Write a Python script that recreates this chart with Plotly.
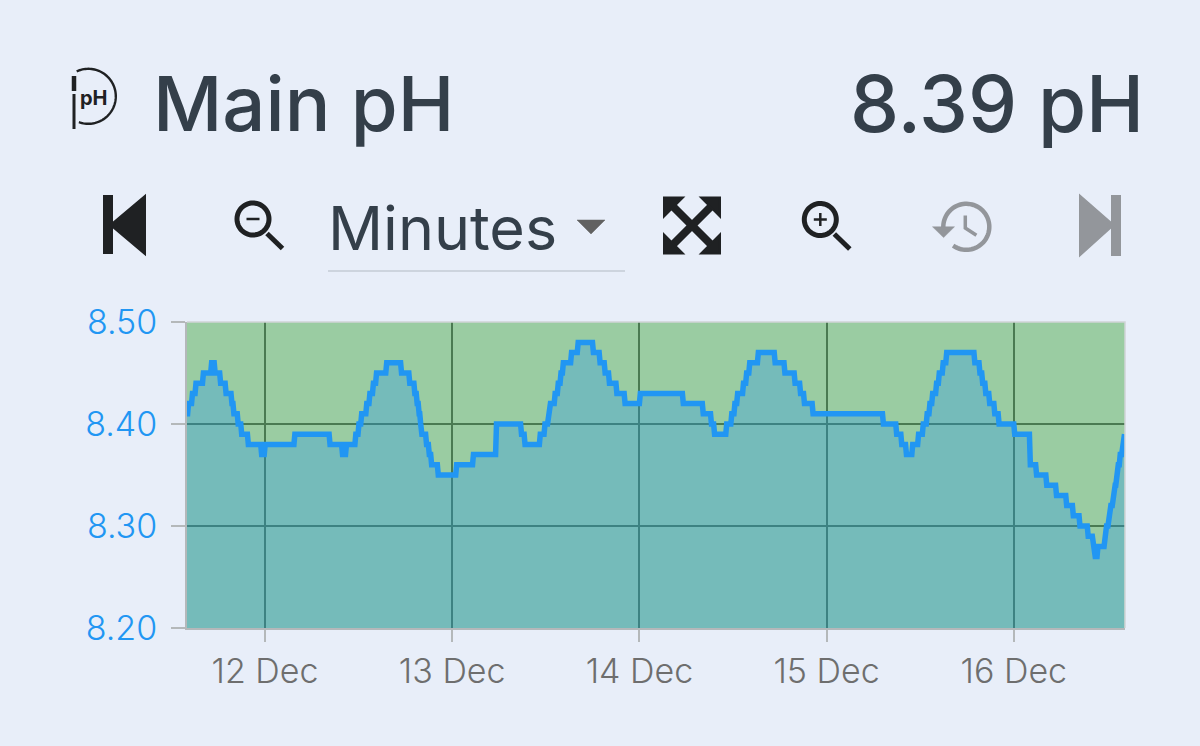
import math
import numpy as np
import pandas as pd
import plotly.graph_objects as go

# pH log: each reading level and the hour (after the window start) at which it took effect
window_start = "2023-12-11 14:00"
change_hours = [0, 0.2, 0.7, 1.15, 2.1, 3.15, 3.6, 4.3, 5.0, 5.75, 6.0, 6.55, 7.0, 7.85, 9.55, 10.0,
                13.8, 18.3, 19.9, 20.4, 21.6, 22.0, 22.35, 23.0, 23.4, 23.85, 24.25, 25.55, 27.45,
                28.5, 29.15, 29.45, 29.7, 29.9, 30.05, 30.65, 31.0, 31.3, 32.15, 34.5, 36.65,
                39.6, 42.8, 43.25, 45.2, 45.8, 46.25, 46.5, 47.1, 47.5, 47.85, 48.15, 49.2, 50.05,
                52.0, 52.85, 53.5, 54.05, 55.0, 56.05, 58.0, 63.5, 66.05, 67.1, 67.5, 69.05, 69.7,
                70.1, 70.45, 71.2, 71.6, 72.0, 73.1, 75.25, 76.5, 77.8, 78.5, 79.0, 80.1, 89.1,
                90.8, 91.45, 92.05, 92.85, 93.6, 94.2, 94.7, 95.05, 95.4, 95.9, 96.25, 96.75, 97.2,
                100.8, 101.45, 101.8, 102.2, 102.7, 103.35, 103.9, 105.9, 107.9, 108.7, 110.0,
                111.25, 112.55, 113.4, 114.25, 115.3, 115.95, 116.2, 116.55, 117.45, 117.65,
                117.95, 118.2, 118.5, 118.75, 118.95, 119.15, 119.4, 119.7, 119.95]
ph_levels = [8.41, 8.42, 8.43, 8.44, 8.45, 8.46, 8.45, 8.44, 8.43, 8.42, 8.41, 8.40, 8.39, 8.38, 8.37, 8.38,
             8.39, 8.38, 8.37, 8.38, 8.39, 8.40, 8.41, 8.42, 8.43, 8.44, 8.45, 8.46, 8.45,
             8.44, 8.43, 8.42, 8.41, 8.40, 8.39, 8.38, 8.37, 8.36, 8.35, 8.36, 8.37,
             8.40, 8.39, 8.38, 8.39, 8.40, 8.41, 8.42, 8.43, 8.44, 8.45, 8.46, 8.47, 8.48,
             8.47, 8.46, 8.45, 8.44, 8.43, 8.42, 8.43, 8.42, 8.41, 8.40, 8.39, 8.40, 8.41,
             8.42, 8.43, 8.44, 8.45, 8.46, 8.47, 8.46, 8.45, 8.44, 8.43, 8.42, 8.41, 8.40,
             8.39, 8.38, 8.37, 8.38, 8.39, 8.40, 8.41, 8.42, 8.43, 8.44, 8.45, 8.46, 8.47,
             8.46, 8.45, 8.44, 8.43, 8.42, 8.41, 8.40, 8.39, 8.36, 8.35, 8.34,
             8.33, 8.32, 8.31, 8.30, 8.29, 8.28, 8.27, 8.28, 8.29, 8.30,
             8.31, 8.32, 8.33, 8.34, 8.35, 8.36, 8.37, 8.38, 8.39]
y_ticks = [8.20, 8.30, 8.40, 8.50]
title_text = "Main pH"
current_text = "8.39 pH"
interval_text = "Minutes"

WIDTH, HEIGHT = 1200, 746
PLOT_L, PLOT_R, PLOT_T, PLOT_B = 187, 1125, 322, 628
PAGE_BG = "#E8EEF9"
BLUE = "#2196F3"
INK = "#1F2123"
MUTED = "#93969B"
TITLE_INK = "#343F4A"
AXIS_GREY = "#B4B8BA"
EDGE_GREY = "#D0D4D6"
GRID = "#4A7A52"
END_HOURS = 120.25
HOUR_SCALE = 1.002

# Hold each level until just before the next change so the line reads as a staircase
t, v = [], []
for i, level in enumerate(ph_levels):
    next_h = change_hours[i + 1] if i + 1 < len(change_hours) else END_HOURS / HOUR_SCALE
    t += [change_hours[i], max(change_hours[i], next_h - 0.12)]
    v += [level, level]
start = pd.Timestamp(window_start)
times = start + pd.to_timedelta(np.array(t) * HOUR_SCALE * 60, unit="min")

fig = go.Figure(go.Scatter(
    x=times, y=v, mode="lines", fill="tozeroy",
    fillcolor="rgba(33,150,243,0.3)",
    line=dict(color=BLUE, width=5.5),
    hoverinfo="skip",
))


def px(x):
    return (x - PLOT_L) / (PLOT_R - PLOT_L)


def py(y):
    return (PLOT_B - y) / (PLOT_B - PLOT_T)


def path(points, close=False):
    body = "M" + " L".join(f"{px(x):.5f},{py(y):.5f}" for x, y in points)
    return body + (" Z" if close else "")


def stroke(points, color, width, close=False, fill=None):
    fig.add_shape(type="path", xref="paper", yref="paper", path=path(points, close),
                  line=dict(color=color, width=width),
                  fillcolor=fill if fill else "rgba(0,0,0,0)")


def arc(cx, cy, r, a0=0, a1=360, n=72):
    return [(cx + r * math.cos(math.radians(a)), cy + r * math.sin(math.radians(a)))
            for a in np.linspace(a0, a1, n)]


def text(x, y, s, size, color, anchor="left", family="Inter", weight=400):
    fig.add_annotation(xref="paper", yref="paper", x=px(x), y=py(y), text=s, showarrow=False,
                       xanchor=anchor, yanchor="middle",
                       font=dict(family=family, size=size, color=color, weight=weight))


def magnifier(cx, cy, plus):
    stroke(arc(cx, cy, 16), INK, 5)
    stroke([(cx + 14, cy + 14.5), (cx + 29.5, cy + 29.5)], INK, 5)
    stroke([(cx - 6.5, cy), (cx + 6.5, cy)], INK, 2.5)
    if plus:
        stroke([(cx, cy - 6.5), (cx, cy + 6.5)], INK, 2.5)


# Faint top and right edges of the plot area
stroke([(PLOT_L, PLOT_T), (PLOT_R, PLOT_T), (PLOT_R, PLOT_B)], EDGE_GREY, 1.5)

# Header: probe badge, sensor name and latest reading
stroke(arc(88.3, 96.3, 27.5, -115, 110), INK, 2.4)
stroke([(74, 76), (74, 91)], INK, 4.5)
stroke([(74, 94), (74, 129)], INK, 3)
text(94, 98, "pH", 20, INK, "center", weight=700)
text(151, 103, title_text, 76, TITLE_INK, weight=500)
text(1146, 103, current_text, 78, TITLE_INK, "right", weight=500)

# Toolbar: jump to start
stroke([(105, 197), (111, 197), (111, 252), (105, 252)], INK, 4, True, INK)
stroke([(144, 198), (144, 252), (112, 225)], INK, 4, True, INK)
magnifier(253, 219, False)

# Toolbar: interval selector
text(326, 228, interval_text, 61, TITLE_INK)
stroke([(577, 220), (605, 220), (591, 234)], "#616161", 0.5, True, "#616161")
stroke([(328, 271), (625, 271)], "#C5CBD5", 1.5)

# Toolbar: fit-all arrows
cx, cy = 692, 225.5
stroke([(cx - 20, cy - 20), (cx + 20, cy + 20)], INK, 8)
stroke([(cx + 20, cy - 20), (cx - 20, cy + 20)], INK, 8)
for sx in (-1, 1):
    for sy in (-1, 1):
        stroke([(cx + sx * 28, cy + sy * 28), (cx + sx * 9, cy + sy * 28),
                (cx + sx * 28, cy + sy * 9)], INK, 2, True, INK)
magnifier(820.3, 219.5, True)

# Toolbar: history and jump to end, both inactive
stroke(arc(966.3, 226.8, 23, 175, 485), MUTED, 4.5)
stroke([(932.5, 226.8), (954.5, 226.8), (943.6, 237.6)], MUTED, 0.5, True, MUTED)
stroke([(965.3, 215.6), (965.3, 228), (976.4, 235.2)], MUTED, 3.5)
stroke([(1081, 198), (1081, 253), (1112, 225)], MUTED, 4, True, MUTED)
stroke([(1113, 197), (1119, 197), (1119, 254), (1113, 254)], MUTED, 4, True, MUTED)

fig.update_layout(
    width=WIDTH, height=HEIGHT, autosize=False, showlegend=False,
    paper_bgcolor=PAGE_BG, plot_bgcolor="#9ACCA2",
    margin=dict(l=PLOT_L, r=WIDTH - PLOT_R, t=PLOT_T, b=HEIGHT - PLOT_B, pad=0),
    xaxis=dict(
        type="date",
        range=[start, start + pd.Timedelta(hours=END_HOURS)],
        tick0="2023-12-12", dtick=86400000, tickformat="%-d %b",
        ticks="outside", ticklen=12, tickwidth=2, tickcolor=AXIS_GREY,
        tickfont=dict(family="Inter", size=34, color="#6E6E6E", weight=300),
        showgrid=True, gridcolor=GRID, gridwidth=1.5,
        showline=True, linecolor=AXIS_GREY, linewidth=2, zeroline=False,
        ticklabelstandoff=0,
    ),
    yaxis=dict(
        range=[8.2, 8.5], tickvals=y_ticks, tickformat=".2f",
        ticks="outside", ticklen=14, tickwidth=2, tickcolor=AXIS_GREY,
        tickfont=dict(family="Inter", size=34, color=BLUE, weight=300),
        showgrid=True, gridcolor=GRID, gridwidth=1.5,
        showline=True, linecolor=AXIS_GREY, linewidth=2, zeroline=False,
        ticklabelstandoff=7,
    ),
)

fig.write_html("out.html", config=dict(displayModeBar=False))
